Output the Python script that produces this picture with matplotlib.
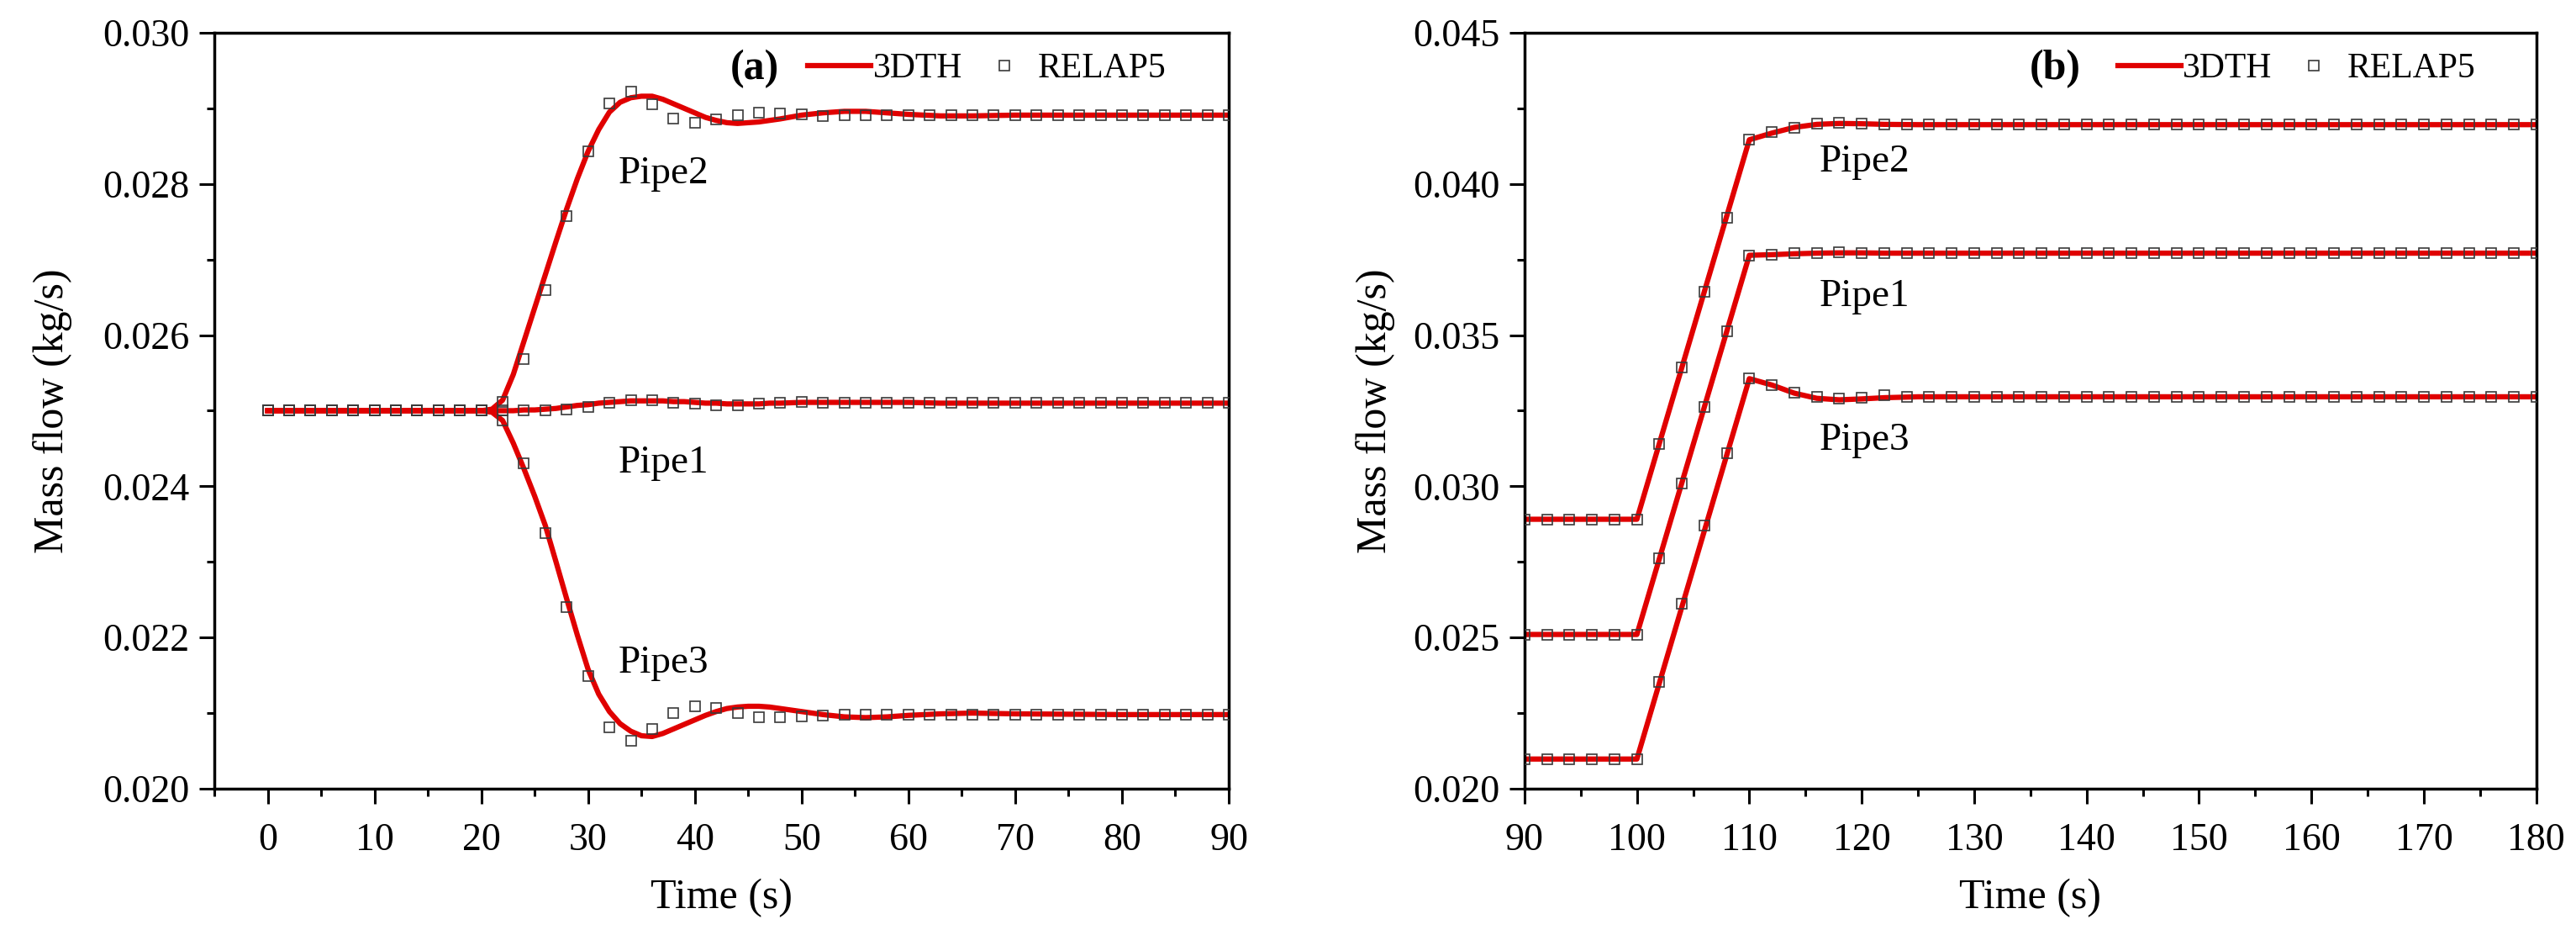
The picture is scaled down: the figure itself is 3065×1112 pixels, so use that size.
import matplotlib.pyplot as plt
from matplotlib.ticker import MultipleLocator, FormatStrFormatter
from matplotlib.lines import Line2D

plt.rcParams['font.family'] = ['Liberation Serif', 'DejaVu Serif']

# ---------------- (a) 0-90 s : 3DTH ----------------
t_a = [0, 20, 21, 22, 23, 24, 25, 26, 27, 28, 29, 30, 31, 32, 33, 34, 35, 36, 37, 38,
       39, 40, 41, 42, 43, 44, 45, 46, 47, 48, 50, 52, 54, 56, 58, 60, 63, 66, 70, 80, 90]
pipe1_a = [0.02500, 0.02500, 0.02500, 0.02500, 0.02500, 0.02501, 0.02501, 0.02502, 0.02503, 0.02505,
           0.02507, 0.02508, 0.02510, 0.02511, 0.02512, 0.02513, 0.02513, 0.02513, 0.02513, 0.02512,
           0.02512, 0.02511, 0.02510, 0.02510, 0.02509, 0.02509, 0.02509, 0.02509, 0.02510, 0.02510,
           0.02511, 0.02511, 0.02511, 0.02511, 0.02511, 0.02511, 0.02510, 0.02510, 0.02510, 0.02510,
           0.02510]
pipe2_a = [0.02500, 0.02500, 0.02502, 0.02514, 0.02548, 0.02592, 0.02636, 0.02680, 0.02724, 0.02767,
           0.02807, 0.02843, 0.02872, 0.02895, 0.02908, 0.02914, 0.02916, 0.02916, 0.02912, 0.02906,
           0.02900, 0.02894, 0.02888, 0.02884, 0.02881, 0.02880, 0.02881, 0.02882, 0.02884, 0.02886,
           0.02891, 0.02894, 0.02896, 0.02896, 0.02894, 0.02892, 0.02890, 0.02890, 0.02891, 0.02891,
           0.02891]
pipe3_a = [0.02500, 0.02500, 0.02498, 0.02487, 0.02457, 0.02423, 0.02387, 0.02348, 0.02300, 0.02251,
           0.02203, 0.02158, 0.02125, 0.02102, 0.02086, 0.02076, 0.02070, 0.02069, 0.02073, 0.02079,
           0.02085, 0.02091, 0.02097, 0.02102, 0.02106, 0.02108, 0.02109, 0.02109, 0.02108, 0.02106,
           0.02102, 0.02098, 0.02095, 0.02094, 0.02095, 0.02097, 0.02099, 0.02100, 0.02099, 0.02098,
           0.02098]

# ---------------- (a) RELAP5, every 2 s ----------------
tr_a = list(range(0, 92, 2))
r1_a = [0.02500, 0.02500, 0.02500, 0.02500, 0.02500, 0.02500, 0.02500, 0.02500, 0.02500, 0.02500,
        0.02500, 0.02500, 0.02500, 0.02501, 0.02502, 0.02505, 0.02510, 0.02514, 0.02514, 0.02511,
        0.02509, 0.02507, 0.02507, 0.02509, 0.02511, 0.02512, 0.02511, 0.02510, 0.02510, 0.02510,
        0.02510, 0.02510, 0.02510, 0.02510, 0.02510, 0.02510, 0.02510, 0.02510, 0.02510, 0.02510,
        0.02510, 0.02510, 0.02510, 0.02510, 0.02510, 0.02510]
r2_a = [0.02500, 0.02500, 0.02500, 0.02500, 0.02500, 0.02500, 0.02500, 0.02500, 0.02500, 0.02500,
        0.02500, 0.02512, 0.02568, 0.02659, 0.02757, 0.02843, 0.02907, 0.02922, 0.02905, 0.02886,
        0.02881, 0.02885, 0.02891, 0.02894, 0.02893, 0.02892, 0.02890, 0.02891, 0.02891, 0.02891,
        0.02891, 0.02891, 0.02891, 0.02891, 0.02891, 0.02891, 0.02891, 0.02891, 0.02891, 0.02891,
        0.02891, 0.02891, 0.02891, 0.02891, 0.02891, 0.02891]
r3_a = [0.02500, 0.02500, 0.02500, 0.02500, 0.02500, 0.02500, 0.02500, 0.02500, 0.02500, 0.02500,
        0.02500, 0.02487, 0.02430, 0.02338, 0.02240, 0.02149, 0.02081, 0.02063, 0.02079, 0.02100,
        0.02109, 0.02107, 0.02100, 0.02095, 0.02094, 0.02096, 0.02097, 0.02098, 0.02098, 0.02098,
        0.02098, 0.02098, 0.02098, 0.02098, 0.02098, 0.02098, 0.02098, 0.02098, 0.02098, 0.02098,
        0.02098, 0.02098, 0.02098, 0.02098, 0.02098, 0.02098]

# ---------------- (b) 90-180 s : 3DTH ----------------
t_b = [90, 100, 110, 112, 114, 116, 118, 120, 122, 125, 130, 180]
pipe1_b = [0.02510, 0.02510, 0.03764, 0.03766, 0.03769, 0.03771, 0.03772, 0.03772, 0.03771, 0.03771,
           0.03771, 0.03771]
pipe2_b = [0.02891, 0.02891, 0.04146, 0.04168, 0.04187, 0.04197, 0.04200, 0.04199, 0.04197, 0.04196,
           0.04196, 0.04196]
pipe3_b = [0.02098, 0.02098, 0.03356, 0.03335, 0.03308, 0.03291, 0.03286, 0.03289, 0.03293, 0.03296,
           0.03296, 0.03296]

# ---------------- (b) RELAP5, every 2 s ----------------
tr_b = list(range(90, 182, 2))
r1_b = [0.02510, 0.02510, 0.02510, 0.02510, 0.02510, 0.02510, 0.02761, 0.03010, 0.03262, 0.03513,
        0.03764, 0.03766, 0.03770, 0.03772, 0.03773, 0.03772, 0.03772, 0.03771, 0.03771, 0.03771,
        0.03771, 0.03771, 0.03771, 0.03771, 0.03771, 0.03771, 0.03771, 0.03771, 0.03771, 0.03771,
        0.03771, 0.03771, 0.03771, 0.03771, 0.03771, 0.03771, 0.03771, 0.03771, 0.03771, 0.03771,
        0.03771, 0.03771, 0.03771, 0.03771, 0.03771, 0.03771]
r2_b = [0.02891, 0.02891, 0.02891, 0.02891, 0.02891, 0.02891, 0.03141, 0.03393, 0.03643, 0.03887,
        0.04146, 0.04172, 0.04185, 0.04199, 0.04202, 0.04199, 0.04197, 0.04196, 0.04196, 0.04196,
        0.04196, 0.04196, 0.04196, 0.04196, 0.04196, 0.04196, 0.04196, 0.04196, 0.04196, 0.04196,
        0.04196, 0.04196, 0.04196, 0.04196, 0.04196, 0.04196, 0.04196, 0.04196, 0.04196, 0.04196,
        0.04196, 0.04196, 0.04196, 0.04196, 0.04196, 0.04196]
r3_b = [0.02098, 0.02098, 0.02098, 0.02098, 0.02098, 0.02098, 0.02352, 0.02612, 0.02869, 0.03110,
        0.03358, 0.03334, 0.03310, 0.03296, 0.03290, 0.03294, 0.03300, 0.03297, 0.03297, 0.03297,
        0.03297, 0.03297, 0.03297, 0.03297, 0.03297, 0.03297, 0.03297, 0.03297, 0.03297, 0.03297,
        0.03297, 0.03297, 0.03297, 0.03297, 0.03297, 0.03297, 0.03297, 0.03297, 0.03297, 0.03297,
        0.03297, 0.03297, 0.03297, 0.03297, 0.03297, 0.03297]

RED = '#e00000'
GREY = '#3a3a3a'
LINE_KW = dict(color=RED, lw=4.5, solid_joinstyle='round', zorder=2)
MARK_KW = dict(ls='none', marker='s', ms=8.5, mfc='none', mec=GREY, mew=1.2, zorder=3)


def style_axes(ax, xlim, xstep, ylim, ystep):
    ax.set_xlim(*xlim)
    ax.set_ylim(*ylim)
    ax.xaxis.set_major_locator(MultipleLocator(xstep))
    ax.xaxis.set_minor_locator(MultipleLocator(xstep / 2))
    ax.yaxis.set_major_locator(MultipleLocator(ystep))
    ax.yaxis.set_minor_locator(MultipleLocator(ystep / 2))
    ax.yaxis.set_major_formatter(FormatStrFormatter('%.3f'))
    ax.tick_params(which='both', direction='out', top=False, right=False, width=2.2, labelsize=33)
    ax.tick_params(which='major', length=13, pad=8)
    ax.tick_params(which='minor', length=6.5)
    ax.tick_params(axis='x', which='major', pad=16)
    for sp in ax.spines.values():
        sp.set_linewidth(2.5)
    ax.set_xlabel('Time (s)', fontsize=36, labelpad=17)
    ax.set_ylabel('Mass flow (kg/s)', fontsize=36)


def add_legend(ax, tag, tag_x, leg_x, y):
    ax.text(tag_x, y, tag, transform=ax.transAxes, ha='right', va='center',
            fontsize=36, fontweight='bold')
    handles = [Line2D([], [], **LINE_KW), Line2D([], [], **MARK_KW)]
    ax.legend(handles, ['3DTH', 'RELAP5'], ncol=2, loc='center right',
              bbox_to_anchor=(leg_x, y), frameon=False, fontsize=30,
              handlelength=1.8, handletextpad=0.05, columnspacing=0.3,
              borderpad=0, borderaxespad=0)


fig = plt.figure(figsize=(30.65, 11.12), dpi=100)
ax1 = fig.add_axes([0.0832, 0.1565, 0.3938, 0.8085])
ax2 = fig.add_axes([0.5918, 0.1565, 0.3928, 0.8085])

# panel (a)
for y in (pipe1_a, pipe2_a, pipe3_a):
    ax1.plot(t_a, y, **LINE_KW)
for y in (r1_a, r2_a, r3_a):
    ax1.plot(tr_a, y, **MARK_KW)
style_axes(ax1, (-5, 90), 10, (0.020, 0.030), 0.002)
ax1.yaxis.set_label_coords(-0.14, 0.5)
ax1.text(32.8, 0.02801, 'Pipe2', fontsize=34)
ax1.text(32.8, 0.02418, 'Pipe1', fontsize=34)
ax1.text(32.8, 0.02154, 'Pipe3', fontsize=34)
add_legend(ax1, '(a)', 0.557, 0.938, 0.952)

# panel (b)
for y in (pipe1_b, pipe2_b, pipe3_b):
    ax2.plot(t_b, y, **LINE_KW)
for y in (r1_b, r2_b, r3_b):
    ax2.plot(tr_b, y, **MARK_KW)
style_axes(ax2, (90, 180), 10, (0.020, 0.045), 0.005)
ax2.yaxis.set_label_coords(-0.128, 0.5)
ax2.text(116.2, 0.0404, 'Pipe2', fontsize=34)
ax2.text(116.2, 0.03597, 'Pipe1', fontsize=34)
ax2.text(116.2, 0.03121, 'Pipe3', fontsize=34)
add_legend(ax2, '(b)', 0.550, 0.940, 0.952)

fig.savefig('out.png', dpi=100)
